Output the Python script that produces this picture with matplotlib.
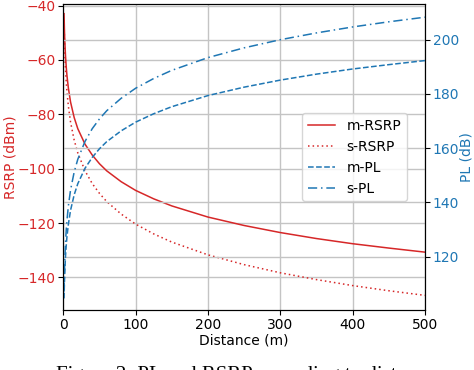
import numpy as np
import matplotlib
matplotlib.use("Agg")
import matplotlib.pyplot as plt

# distance (m)
dist = [1, 1.5, 2, 3, 4, 5, 7, 10, 15, 20, 30, 40, 50, 60, 80, 100,
        125, 150, 200, 250, 300, 350, 400, 450, 500]

# values
m_rsrp = [-43.0, -48.7, -52.8, -58.5, -62.5, -65.7, -70.4, -75.5, -81.2, -85.3,
          -91.0, -95.0, -98.2, -100.8, -104.8, -108.0, -111.1, -113.7, -117.8,
          -120.9, -123.5, -125.7, -127.6, -129.2, -130.7]
s_rsrp = [-45.4, -52.0, -56.7, -63.3, -68.0, -71.6, -77.1, -82.9, -89.5, -94.2,
          -100.8, -105.5, -109.1, -112.1, -116.7, -120.4, -124.0, -127.0, -131.7,
          -135.3, -138.3, -140.8, -143.0, -144.9, -146.6]
m_pl = [104.6, 110.3, 114.4, 120.1, 124.1, 127.3, 132.0, 137.1, 142.8, 146.9,
        152.6, 156.6, 159.8, 162.4, 166.4, 169.6, 172.7, 175.3, 179.4, 182.5,
        185.1, 187.3, 189.2, 190.8, 192.3]
s_pl = [107.1, 113.7, 118.4, 125.0, 129.7, 133.3, 138.8, 144.6, 151.2, 155.9,
        162.5, 167.2, 170.8, 173.8, 178.4, 182.1, 185.7, 188.7, 193.4, 197.0,
        200.0, 202.5, 204.7, 206.6, 208.3]

red = 'tab:red'
blue = 'tab:blue'

fig = plt.figure(figsize=(4.74, 3.70), dpi=100)
ax = fig.add_axes([0.1336, 0.162, 0.763, 0.826])
ax2 = ax.twinx()

l1, = ax.plot(dist, m_rsrp, color=red, lw=1.1, ls='-', label='m-RSRP')
l2, = ax.plot(dist, s_rsrp, color=red, lw=1.1, ls=(0, (1, 2)), label='s-RSRP')
l3, = ax2.plot(dist, m_pl, color=blue, lw=1.1, ls='--', label='m-PL')
l4, = ax2.plot(dist, s_pl, color=blue, lw=1.1, ls=(0, (6, 2.5, 1, 2.5)), label='s-PL')

ax.set_xlim(0, 500)
ax.set_ylim(-152, -39.6)
ax2.set_ylim(100.3, 213)
ax.set_yticks([-140, -120, -100, -80, -60, -40])
ax2.set_yticks([120, 140, 160, 180, 200])
ax.set_xticks([0, 100, 200, 300, 400, 500])

ax.grid(True, color='#c4c4c4', lw=1)
ax2.grid(True, color='#c4c4c4', lw=1)
ax.set_axisbelow(True)

ax.set_xlabel('Distance (m)', fontsize=10, labelpad=1)
ax.set_ylabel('RSRP (dBm)', color=red, fontsize=10, labelpad=0)
ax2.set_ylabel('PL (dB)', color=blue, fontsize=10, labelpad=0)
ax.tick_params(axis='y', labelcolor=red, labelsize=10, pad=2)
ax.tick_params(axis='x', labelsize=10, pad=2)
ax2.tick_params(axis='y', labelcolor=blue, labelsize=10, pad=2)

ax2.legend(handles=[l1, l2, l3, l4], loc='center right',
           bbox_to_anchor=(0.969, 0.5), fontsize=10)

fig.text(0.519, 0.012, 'Figure 2: PL and RSRP according to distance',
         ha='center', va='top', family='Liberation Serif', fontsize=15)

fig.savefig('out.png', dpi=100)
